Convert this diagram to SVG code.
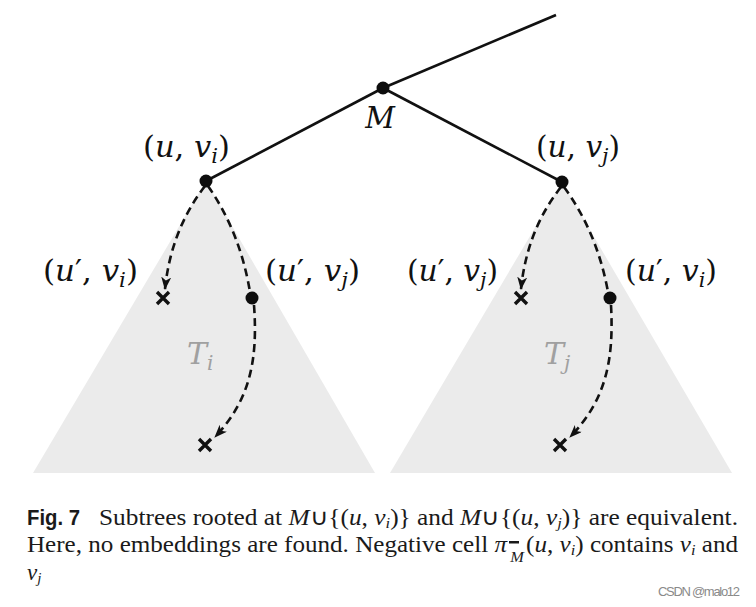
<svg xmlns="http://www.w3.org/2000/svg" width="756" height="607" viewBox="0 0 756 607">
<style>
.edge{stroke:#111;stroke-width:2.6;fill:none}
.dash{stroke:#111;stroke-width:2.6;fill:none;stroke-dasharray:8 5}
.dot{fill:#0d0d0d}
.tri{fill:#ebebeb}
.xm{stroke:#111;stroke-width:3.4;fill:none}
.math{font-family:"DejaVu Serif","Liberation Serif",serif;font-size:29px;fill:#111}
.it{font-style:italic}
.sub{font-size:20px;font-style:italic}
.tlab{font-family:"DejaVu Serif","Liberation Serif",serif;font-size:30px;font-style:italic;fill:#a0a0a0}
.cap{font-family:"Liberation Serif","Times New Roman",serif;font-size:23px;fill:#1a1a1a}
.capb{font-family:"Liberation Sans",Arial,sans-serif;font-size:22px;font-weight:bold;fill:#1a1a1a}
.wm{font-family:"Liberation Sans",Arial,sans-serif;font-size:13px;fill:#8a8a8a}
</style>
<defs>
<marker id="arr" markerUnits="userSpaceOnUse" markerWidth="16" markerHeight="12" refX="12" refY="5" orient="auto">
<path d="M0,0 L13,5 L0,10 L3.5,5 z" fill="#111"/>
</marker>
<path id="x" class="xm" d="M-6,-6 L6,6 M-6,6 L6,-6"/>
</defs>
<rect width="756" height="607" fill="#fff"/>

<g id="tree-Ti">
<polygon class="tri" points="206,181 33,473 375,473"/>
<text class="tlab" x="187" y="364">T<tspan class="sub" font-size="21" dy="6">i</tspan></text>
</g>
<g id="tree-Tj">
<polygon class="tri" points="562,182 390,473 732,473"/>
<text class="tlab" x="544" y="364">T<tspan class="sub" font-size="21" dy="6">j</tspan></text>
</g>

<g id="connectors">
<path class="edge" d="M556,15 L383,88"/>
<path class="edge" d="M383,88 L206,181"/>
<path class="edge" d="M383,88 L562,182"/>
<path class="dash" d="M205,186 Q171,230 165,289" marker-end="url(#arr)"/>
<path class="dash" d="M208,186 Q240,232 250,292"/>
<path class="dash" d="M254,305 C258,360 250,400 215,437" marker-end="url(#arr)"/>
<path class="dash" d="M561,187 Q527,230 521,289" marker-end="url(#arr)"/>
<path class="dash" d="M564,187 Q597,232 608,292"/>
<path class="dash" d="M611,305 C614,360 606,400 570,437" marker-end="url(#arr)"/>
</g>

<g id="node-M">
<circle class="dot" cx="383" cy="88" r="6.5"/>
<text class="math it" x="380" y="128" text-anchor="middle" font-size="28">M</text>
</g>
<g id="node-u-vi">
<circle class="dot" cx="206" cy="181" r="6.5"/>
<text class="math" x="143" y="157" textLength="87" lengthAdjust="spacingAndGlyphs">(<tspan class="it">u</tspan>, <tspan class="it">v</tspan><tspan class="sub" dy="6">i</tspan><tspan dy="-6">)</tspan></text>
</g>
<g id="node-u-vj">
<circle class="dot" cx="562" cy="182" r="6.5"/>
<text class="math" x="536" y="157" textLength="84" lengthAdjust="spacingAndGlyphs">(<tspan class="it">u</tspan>, <tspan class="it">v</tspan><tspan class="sub" dy="6">j</tspan><tspan dy="-6">)</tspan></text>
</g>
<g id="node-Ti-up-vi">
<use href="#x" x="163" y="298"/>
<text class="math" x="43" y="281" textLength="95" lengthAdjust="spacingAndGlyphs">(<tspan class="it">u</tspan>′, <tspan class="it">v</tspan><tspan class="sub" dy="6">i</tspan><tspan dy="-6">)</tspan></text>
</g>
<g id="node-Ti-up-vj">
<circle class="dot" cx="252" cy="298" r="6.5"/>
<text class="math" x="265" y="281" textLength="95" lengthAdjust="spacingAndGlyphs">(<tspan class="it">u</tspan>′, <tspan class="it">v</tspan><tspan class="sub" dy="6">j</tspan><tspan dy="-6">)</tspan></text>
</g>
<g id="node-Ti-leaf">
<use href="#x" x="205" y="445"/>
</g>
<g id="node-Tj-up-vj">
<use href="#x" x="521" y="298"/>
<text class="math" x="407" y="281" textLength="91" lengthAdjust="spacingAndGlyphs">(<tspan class="it">u</tspan>′, <tspan class="it">v</tspan><tspan class="sub" dy="6">j</tspan><tspan dy="-6">)</tspan></text>
</g>
<g id="node-Tj-up-vi">
<circle class="dot" cx="610" cy="298" r="6.5"/>
<text class="math" x="625" y="281" textLength="92" lengthAdjust="spacingAndGlyphs">(<tspan class="it">u</tspan>′, <tspan class="it">v</tspan><tspan class="sub" dy="6">i</tspan><tspan dy="-6">)</tspan></text>
</g>
<g id="node-Tj-leaf">
<use href="#x" x="560" y="445"/>
</g>

<g id="caption">
<text class="capb" x="27" y="525" textLength="53" lengthAdjust="spacingAndGlyphs">Fig. 7</text>
<text class="cap" x="99" y="525" textLength="639" lengthAdjust="spacingAndGlyphs">Subtrees rooted at <tspan class="it">M</tspan>∪{(<tspan class="it">u</tspan>, <tspan class="it">v</tspan><tspan font-size="15" class="it" dy="3">i</tspan><tspan dy="-3">)} and </tspan><tspan class="it">M</tspan>∪{(<tspan class="it">u</tspan>, <tspan class="it">v</tspan><tspan font-size="15" class="it" dy="3">j</tspan><tspan dy="-3">)} are equivalent.</tspan></text>
<text class="cap" x="27" y="552" textLength="711" lengthAdjust="spacingAndGlyphs">Here, no embeddings are found. Negative cell <tspan class="it">π</tspan><tspan class="it" font-size="15" dx="3" dy="10">M</tspan><tspan dx="2" dy="-10">(<tspan class="it">u</tspan>, <tspan class="it">v</tspan><tspan font-size="15" class="it" dy="3">i</tspan><tspan dy="-3">) contains </tspan><tspan class="it">v</tspan><tspan font-size="15" class="it" dy="3">i</tspan><tspan dy="-3"> and</tspan></tspan></text>
<rect x="509" y="541" width="10" height="2.5" fill="#1a1a1a"/>
<text class="cap" x="27" y="580"><tspan class="it">v</tspan><tspan font-size="15" class="it" dy="3">j</tspan></text>
<text class="wm" x="658" y="596" textLength="82">CSDN @malo12</text>
</g>
</svg>
